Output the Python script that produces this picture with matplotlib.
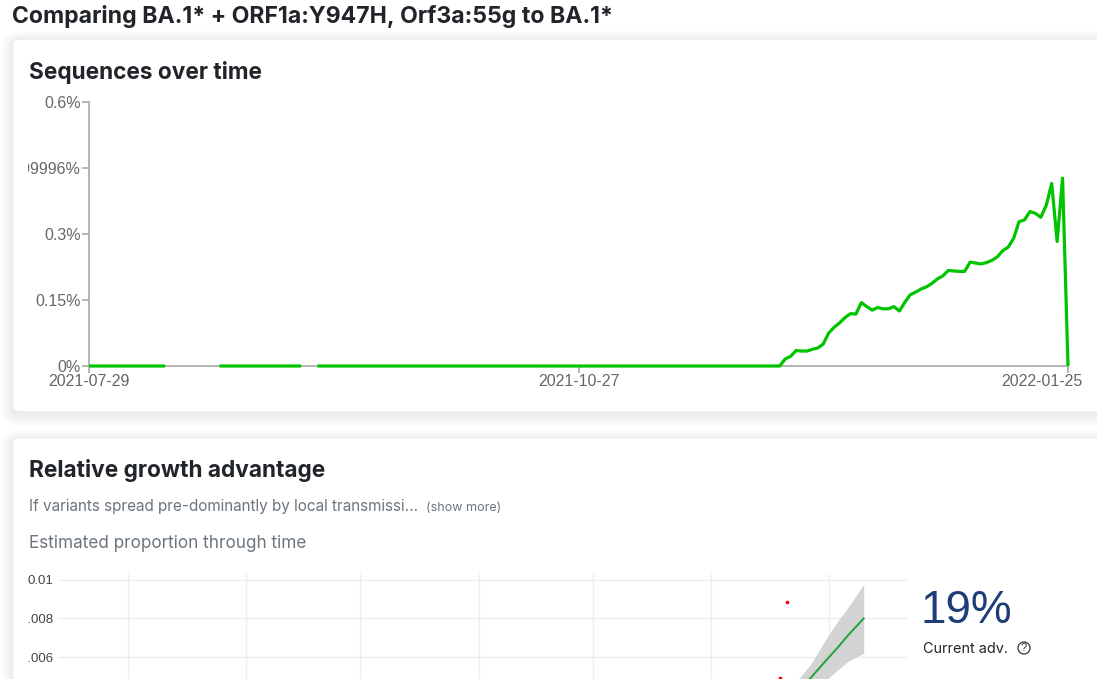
import numpy as np
import pandas as pd
import matplotlib
matplotlib.use("Agg")
import matplotlib.pyplot as plt
from matplotlib.patches import FancyBboxPatch, Circle
from matplotlib.transforms import IdentityTransform, Bbox, TransformedBbox, ScaledTranslation

plt.rcParams["font.family"] = ["Liberation Sans", "DejaVu Sans"]

W, H = 1097, 679
nan = np.nan

# --- sequences over time (share of BA.1*, in %) ---
seq_start = "2021-07-29"
seq_end = "2022-01-25"
# days 0..126: no sequences found (gaps = no data)
early_share = [0.0] * 15 + [nan] * 9 + [0.0] * 16 + [nan] * 2 + [0.0] * 85
# days 127..180
late_share = [
    0.0, 0.016, 0.022, 0.035, 0.034, 0.034, 0.038, 0.041, 0.050, 0.075,
    0.088, 0.098, 0.110, 0.119, 0.118, 0.144, 0.135, 0.127, 0.133, 0.130,
    0.130, 0.135, 0.125, 0.145, 0.162, 0.168, 0.175, 0.180, 0.188, 0.198,
    0.205, 0.217, 0.216, 0.215, 0.215, 0.236, 0.234, 0.232, 0.235, 0.240,
    0.248, 0.262, 0.270, 0.290, 0.328, 0.332, 0.351, 0.347, 0.338, 0.365,
    0.415, 0.283, 0.427, 0.0,
]
seq_ticks = ["2021-07-29", "2021-10-27", "2022-01-25"]
share_ticks = [0, 0.15, 0.3, 0.45, 0.6]
share_labels = ["0%", "0.15%", "0.3%", "0.44999999999999996%", "0.6%"]

# --- estimated proportion (bottom chart) ---
fit_dates = ["2022-01-20", "2022-01-24", "2022-01-27", "2022-01-31",
             "2022-02-03", "2022-02-06", "2022-02-10"]
fit_mid = [0.0035, 0.0043, 0.0049, 0.0058, 0.00645, 0.00715, 0.0080]
fit_hi = [0.0043, 0.0049, 0.0056, 0.0069, 0.0078, 0.0086, 0.00975]
fit_lo = [0.0029, 0.0036, 0.0041, 0.0048, 0.0053, 0.0058, 0.0062]
obs_dates = ["2022-01-19", "2022-01-21"]
obs_vals = [0.0049, 0.00885]
month_starts = ["2021-08-01", "2021-09-01", "2021-10-01", "2021-11-01",
                "2021-12-01", "2022-01-01", "2022-02-01"]
prop_ticks = [0.002, 0.004, 0.006, 0.008, 0.01]
prop_labels = ["0.002", "0.004", "0.006", "0.008", "0.01"]

fig = plt.figure(figsize=(W / 100, H / 100), dpi=100)
fig.patch.set_facecolor("white")


def card(x0, y0, x1, y1):
    # soft shadow then white card, pixel coords from the top-left
    for k in range(1, 10):
        p = k * 1.3
        fig.add_artist(FancyBboxPatch(
            (x0 - p, H - y1 - 3 - p), x1 - x0 + 2 * p, y1 - y0 + 2 * p,
            boxstyle=f"round,pad=0,rounding_size={6 + p}",
            fc="black", ec="none", alpha=0.009,
            transform=IdentityTransform(), zorder=-3))
    fig.add_artist(FancyBboxPatch(
        (x0, H - y1), x1 - x0, y1 - y0,
        boxstyle="round,pad=0,rounding_size=6",
        fc="white", ec="#ebebeb", lw=0.8,
        transform=IdentityTransform(), zorder=-2))


card(12.7, 39.3, 1130, 411.7)
card(12.7, 437.7, 1130, 760)

head = dict(family=["Inter", "DejaVu Sans"], color="#212529", va="center")
fig.text(12 / W, 1 - 17 / H, "Comparing BA.1* + ORF1a:Y947H, Orf3a:55g to BA.1*",
         fontsize=16.6, fontweight="bold", **head)
fig.text(29 / W, 1 - 73 / H, "Sequences over time", fontsize=16.3,
         fontweight="bold", **head)
fig.text(29 / W, 1 - 471 / H, "Relative growth advantage", fontsize=16.3,
         fontweight="bold", **head)
body = dict(family=["Inter", "DejaVu Sans"], color="#6c757d", va="center")
fig.text(29 / W, 1 - 507 / H,
         "If variants spread pre-dominantly by local transmissi...",
         fontsize=11, **body)
fig.text(426 / W, 1 - 508 / H, "(show more)", fontsize=9, **body)
fig.text(29 / W, 1 - 544 / H, "Estimated proportion through time",
         fontsize=12.3, **body)

label_clip = TransformedBbox(Bbox.from_extents(28 / W, 0, 1, 1), fig.transFigure)

# top chart
seq_dates = pd.date_range(seq_start, seq_end)
share = np.array(early_share + late_share)

ax1 = fig.add_axes([89 / W, (H - 366) / H, 979 / W, 264 / H])
ax1.set_facecolor("none")
ax1.plot(seq_dates, share, color="#00c400", lw=2.3, clip_on=False,
         solid_capstyle="butt", solid_joinstyle="round", zorder=3)
ax1.set_xlim(seq_dates[0], seq_dates[-1])
ax1.set_ylim(0, 0.6)
ax1.set_yticks(share_ticks, share_labels)
ax1.set_xticks(pd.to_datetime(seq_ticks), seq_ticks)
for s in ["top", "right"]:
    ax1.spines[s].set_visible(False)
for s in ["left", "bottom"]:
    ax1.spines[s].set_color("#a8a8a8")
    ax1.spines[s].set_linewidth(1.2)
ax1.tick_params(colors="#a8a8a8", labelcolor="#666666", length=5, width=1.2,
                labelsize=11.5, pad=1)
for lab in ax1.get_yticklabels():
    lab.set_clip_box(label_clip)
    lab.set_clip_on(True)
# last date label is pulled inside the card
last_lab = ax1.get_xticklabels()[-1]
last_lab.set_ha("right")
last_lab.set_transform(last_lab.get_transform()
                       + ScaledTranslation(15 / 100, 0, fig.dpi_scale_trans))

# bottom chart
ax2 = fig.add_axes([58 / W, (H - 773) / H, 850 / W, 199 / H])
ax2.set_facecolor("white")
fd = pd.to_datetime(fit_dates)
ax2.fill_between(fd, fit_lo, fit_hi, color="#d3d3d3", lw=0, zorder=2)
ax2.plot(fd, fit_mid, color="#1aa33a", lw=1.4, zorder=3)
ax2.scatter(pd.to_datetime(obs_dates), obs_vals, s=7, color="#ff0000",
            zorder=4, linewidths=0)
ax2.set_xlim(pd.Timestamp("2021-07-13 16:00"), pd.Timestamp("2022-02-21 15:00"))
ax2.set_ylim(0, 0.0103)
ax2.set_xticks(pd.to_datetime(month_starts))
ax2.set_xticklabels([])
ax2.set_yticks(prop_ticks, prop_labels)
ax2.grid(color="#eeeeee", lw=1)
ax2.set_axisbelow(True)
for s in ax2.spines.values():
    s.set_visible(False)
ax2.tick_params(length=0, labelcolor="#444444", labelsize=9.5, pad=3)
for lab in ax2.get_yticklabels():
    lab.set_clip_box(label_clip)
    lab.set_clip_on(True)

# right side summary
fig.text(920 / W, 1 - 611 / H, "19%", fontsize=33, color="#1d3c78",
         family=["Liberation Sans", "DejaVu Sans"], va="center")
fig.text(923 / W, 1 - 649 / H, "Current adv.", fontsize=10.4, color="#212529",
         family=["Inter", "DejaVu Sans"], va="center")
fig.add_artist(Circle((1024, H - 648), 6, fill=False, ec="#333333", lw=0.9,
                      transform=IdentityTransform()))
fig.text(1024 / W, 1 - 648 / H, "?", fontsize=8, color="#333333",
         ha="center", va="center")

fig.savefig("out.png", dpi=100)
